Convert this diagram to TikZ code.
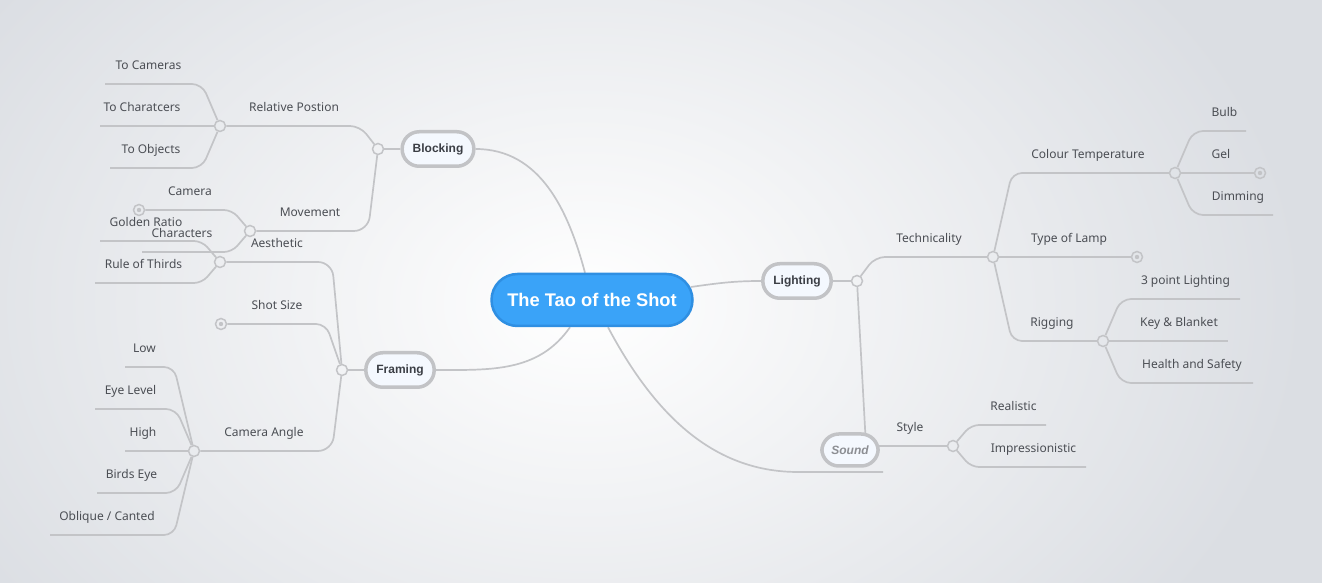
\documentclass[tikz,border=0pt]{standalone}
\usepackage{fontspec}
\setmainfont{Noto Sans}
\newfontfamily\topicfont{Liberation Sans}
\usepackage{tikz}
\usetikzlibrary{backgrounds}
\usetikzlibrary{positioning, calc}
\definecolor{bgcol}{HTML}{DBDEE3}
\definecolor{linecol}{HTML}{C3C4C7}
\definecolor{leafcol}{HTML}{4B4E54}
\definecolor{topiccol}{HTML}{3B3E45}
\definecolor{soundcol}{HTML}{8C8E93}
\definecolor{rootfill}{HTML}{3AA3F8}
\definecolor{rootedge}{HTML}{2F8FE2}
\definecolor{topicfill}{HTML}{F4F8FE}
\definecolor{topicedge}{HTML}{C2C3C6}
\tikzset{branch/.style={draw=linecol, line width=1.7pt, rounded corners=10pt}}
\tikzset{junction/.style={circle, draw=linecol, line width=1.5pt, minimum size=11pt, inner sep=0pt}}
\tikzset{folded/.style={junction, path picture={\fill[linecol] (path picture bounding box.center) circle (2.2pt);}}}
\tikzset{leaf/.style={text=leafcol, font=\fontsize{12}{14}\selectfont, inner xsep=0pt, inner ysep=14pt, text depth=0pt, outer sep=0pt}}
\tikzset{topic/.style={rectangle, rounded corners=17pt, draw=topicedge, line width=3.5pt, fill=topicfill, text=topiccol, font=\topicfont\bfseries\fontsize{12}{14}\selectfont, minimum height=34.5pt, inner xsep=10.5pt}}
\tikzset{root/.style={rectangle, rounded corners=26pt, draw=rootedge, line width=2.5pt, fill=rootfill, text=white, font=\topicfont\bfseries\fontsize{18.3}{21}\selectfont, minimum width=201pt, minimum height=52pt}}

\begin{document}
\begin{tikzpicture}[x=1pt, y=1pt]
  \useasboundingbox (0,0) rectangle (1322,583);
  \begin{scope}[on background layer]
    \fill[bgcol] (0,0) rectangle (1322,583);
    \shade[inner color=white, outer color=bgcol] (585,280) ellipse [x radius=720pt, y radius=520pt];
  \end{scope}

  % main topics
  \node[root] (tao) at (592,283) {The Tao of the Shot};
  \node[topic] (blocking) at (438,434) {Blocking};
  \node[topic] (lighting) at (797,302) {Lighting};
  \node[topic] (framing) at (400,213) {Framing};
  \node[topic, text=soundcol, font=\topicfont\bfseries\itshape\fontsize{12}{14}\selectfont, minimum height=32pt, inner xsep=9.5pt] (sound) at (850,133) {Sound};
  \coordinate (soundTail) at (883,111);

  % junctions and folded ends
  \node[junction] (jBlock) at (378,434) {};
  \node[junction] (jRel) at (220,457) {};
  \node[junction] (jMove) at (250,352) {};
  \node[junction] (jFrame) at (342,213) {};
  \node[junction] (jAes) at (220,321) {};
  \node[junction] (jAngle) at (194,132) {};
  \node[junction] (jLight) at (857,302) {};
  \node[junction] (jTech) at (993,326) {};
  \node[junction] (jColour) at (1175,410) {};
  \node[junction] (jRig) at (1103,242) {};
  \node[junction] (jStyle) at (953,137) {};
  \node[folded] (fCamera) at (139,373) {};
  \node[folded] (fShot) at (221,259) {};
  \node[folded] (fLamp) at (1137,326) {};
  \node[folded] (fGel) at (1260,410) {};

  % left side
  \node[leaf, anchor=south east, minimum width=112pt] (relPos) at (350,457) {Relative Postion};
  \node[leaf, anchor=south east, minimum width=96pt] (movement) at (358,352) {Movement};
  \node[leaf, anchor=south east, minimum width=87pt] (toCams) at (192,499) {To Cameras};
  \node[leaf, anchor=south east, minimum width=84pt] (toChars) at (184,457) {To Charatcers};
  \node[leaf, anchor=south east, minimum width=82pt] (toObjs) at (192,415) {To Objects};
  \node[leaf, anchor=south east, minimum width=64pt] (camera) at (222,373) {Camera};
  \node[leaf, anchor=south east, minimum width=80pt] (chars) at (222,331) {Characters};
  \node[leaf, anchor=south east, minimum width=90pt] (aesthetic) at (322,321) {Aesthetic};
  \node[leaf, anchor=south east, minimum width=78pt] (shotSize) at (316,259) {Shot Size};
  \node[leaf, anchor=south east, minimum width=116pt] (camAngle) at (322,132) {Camera Angle};
  \node[leaf, anchor=south east, minimum width=92pt] (golden) at (192,342) {Golden Ratio};
  \node[leaf, anchor=south east, minimum width=97pt] (thirds) at (192,300) {Rule of Thirds};
  \node[leaf, anchor=south east, minimum width=39pt] (low) at (164,216) {Low};
  \node[leaf, anchor=south east, minimum width=71pt] (eyeLevel) at (166,174) {Eye Level};
  \node[leaf, anchor=south east, minimum width=36pt] (high) at (161,132) {High};
  \node[leaf, anchor=south east, minimum width=69pt] (birdsEye) at (166,90) {Birds Eye};
  \node[leaf, anchor=south east, minimum width=114pt] (oblique) at (164,48) {Oblique / Canted};

  % right side
  \node[leaf, anchor=south west, minimum width=88pt] (technicality) at (885,326) {Technicality};
  \node[leaf, anchor=south west, minimum width=68pt] (style) at (876,137) {Style};
  \node[leaf, anchor=south west, minimum width=132pt] (colourTemp) at (1022,410) {Colour Temperature};
  \node[leaf, anchor=south west, minimum width=94pt] (typeLamp) at (1022,326) {Type of Lamp};
  \node[leaf, anchor=south west, minimum width=60pt] (rigging) at (1022,242) {Rigging};
  \node[leaf, anchor=south west, minimum width=43pt] (bulb) at (1203,452) {Bulb};
  \node[leaf, anchor=south west, minimum width=36pt] (gel) at (1203,410) {Gel};
  \node[leaf, anchor=south west, minimum width=70pt] (dimming) at (1203,368) {Dimming};
  \node[leaf, anchor=south west, minimum width=109pt] (threePoint) at (1131,284) {3 point Lighting};
  \node[leaf, anchor=south west, minimum width=98pt] (keyBlanket) at (1130,242) {Key \& Blanket};
  \node[leaf, anchor=south west, minimum width=122pt] (health) at (1131,200) {Health and Safety};
  \node[leaf, anchor=south west, minimum width=65pt] (realistic) at (981,158) {Realistic};
  \node[leaf, anchor=south west, minimum width=105pt] (impress) at (981,116) {Impressionistic};

  \begin{scope}[on background layer]
    \draw[branch] ($(tao.north)+(-7,0)$) to[out=105, in=0] (blocking);
    \draw[branch] ($(tao.east)+(-3,13)$) to[out=8, in=180] (lighting);
    \draw[branch] ($(tao.south)+(-22,0)$) to[out=235, in=0] (framing);
    \draw[branch] ($(tao.south)+(16,0)$) to[out=-62, in=180] ($(soundTail)+(-75,0)$) -- (soundTail);
    \draw[branch] (blocking) -- (jBlock);
    \draw[branch] (lighting) -- (jLight);
    \draw[branch] (framing) -- (jFrame);
    % blocking
    \draw[branch] (jBlock) -- ([xshift=10pt]relPos.south east) -- (jRel);
    \draw[branch, rounded corners=14pt] (jBlock) -- ([xshift=10pt]movement.south east) -- (jMove);
    \draw[branch] (jRel) -- ([xshift=10pt]toCams.south east) -- (toCams.south west);
    \draw[branch] (jRel) -- (toChars.south west);
    \draw[branch] (jRel) -- ([xshift=10pt]toObjs.south east) -- (toObjs.south west);
    \draw[branch, rounded corners=8pt] (jMove) -- ([xshift=10pt]camera.south east) -- (fCamera);
    \draw[branch, rounded corners=8pt] (jMove) -- ([xshift=10pt]chars.south east) -- (chars.south west);
    % framing
    \draw[branch, rounded corners=14pt] (jFrame) -- ([xshift=10pt]aesthetic.south east) -- (jAes);
    \draw[branch] (jFrame) -- ([xshift=10pt]shotSize.south east) -- (fShot);
    \draw[branch, rounded corners=14pt] (jFrame) -- ([xshift=10pt]camAngle.south east) -- (jAngle);
    \draw[branch, rounded corners=8pt] (jAes) -- ([xshift=10pt]golden.south east) -- (golden.south west);
    \draw[branch, rounded corners=8pt] (jAes) -- ([xshift=10pt]thirds.south east) -- (thirds.south west);
    \draw[branch] (jAngle) -- ([xshift=10pt]low.south east) -- (low.south west);
    \draw[branch] (jAngle) -- ([xshift=10pt]eyeLevel.south east) -- (eyeLevel.south west);
    \draw[branch] (jAngle) -- (high.south west);
    \draw[branch] (jAngle) -- ([xshift=10pt]birdsEye.south east) -- (birdsEye.south west);
    \draw[branch] (jAngle) -- ([xshift=10pt]oblique.south east) -- (oblique.south west);
    % lighting
    \draw[branch] (jLight) -- ([xshift=-10pt]technicality.south west) -- (jTech);
    \draw[branch, rounded corners=14pt] (jLight) -- ([xshift=-10pt]style.south west) -- (jStyle);
    \draw[branch] (jTech) -- ([xshift=-10pt]colourTemp.south west) -- (jColour);
    \draw[branch] (jTech) -- (fLamp);
    \draw[branch] (jTech) -- ([xshift=-10pt]rigging.south west) -- (jRig);
    \draw[branch] (jColour) -- ([xshift=-10pt]bulb.south west) -- (bulb.south east);
    \draw[branch] (jColour) -- (fGel);
    \draw[branch] (jColour) -- ([xshift=-10pt]dimming.south west) -- (dimming.south east);
    \draw[branch] (jRig) -- ([xshift=-10pt]threePoint.south west) -- (threePoint.south east);
    \draw[branch] (jRig) -- (keyBlanket.south east);
    \draw[branch] (jRig) -- ([xshift=-10pt]health.south west) -- (health.south east);
    \draw[branch, rounded corners=8pt] (jStyle) -- ([xshift=-10pt]realistic.south west) -- (realistic.south east);
    \draw[branch, rounded corners=8pt] (jStyle) -- ([xshift=-10pt]impress.south west) -- (impress.south east);
  \end{scope}
\end{tikzpicture}
\end{document}
